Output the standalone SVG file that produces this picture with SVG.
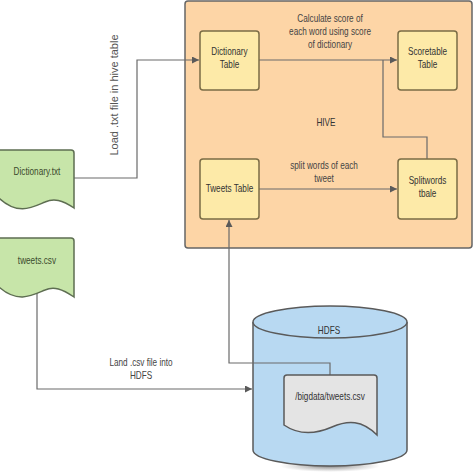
<svg xmlns="http://www.w3.org/2000/svg" width="474" height="475" viewBox="0 0 474 475">
<defs>
<marker id="arr" viewBox="0 0 10 10" refX="10" refY="5" markerWidth="7" markerHeight="7" markerUnits="userSpaceOnUse" orient="auto">
<path d="M0,0 L10,5 L0,10 Z" fill="#5a5a5a"/>
</marker>
<radialGradient id="shadow" cx="0.5" cy="0.5" r="0.5">
<stop offset="0" stop-color="#777" stop-opacity="0.9"/>
<stop offset="1" stop-color="#999" stop-opacity="0"/>
</radialGradient>
<style>
.lbl{font-family:"Liberation Sans",Arial,sans-serif;font-size:10.5px;fill:#444;text-anchor:middle}
.nt{font-family:"Liberation Sans",Arial,sans-serif;font-size:10.5px;fill:#333;text-anchor:middle}
.gt{font-family:"Liberation Sans",Arial,sans-serif;font-size:10.5px;fill:#3a4a2c;text-anchor:middle}
.tbl{fill:#fdeaa8;stroke:#7a6c45;stroke-width:1.5}
.doc{fill:#c7e5a9;stroke:#5e6e52;stroke-width:1.5}
.con{fill:none;stroke:#6a6a6a;stroke-width:1.2}
</style>
</defs>
<rect width="474" height="475" fill="#ffffff"/>

<g id="hive">
<rect x="185" y="1" width="287" height="247" rx="3" fill="#fdd5a6" stroke="#666" stroke-width="1.5"/>
<text class="nt" transform="scale(0.78 1)" x="417.9" y="126">HIVE</text>
</g>

<g id="hdfs">
<ellipse cx="330" cy="466" rx="50" ry="6" fill="url(#shadow)"/>
<path d="M253,322 V450 A77,16 0 0 0 407,450 V322" fill="#b8d9f2" stroke="#5a5a5a" stroke-width="1.5"/>
<ellipse cx="330" cy="322" rx="77" ry="16" fill="#b8d9f2" stroke="#5a5a5a" stroke-width="1.5"/>
<text class="nt" transform="scale(0.78 1)" x="421.8" y="334">HDFS</text>
</g>

<g id="connectors">
<path class="con" d="M74,178 H137 V60 H199" marker-end="url(#arr)"/>
<path class="con" d="M259,60 H397" marker-end="url(#arr)"/>
<path class="con" d="M427,159 V137 H383 V60"/>
<path class="con" d="M259,189 H397" marker-end="url(#arr)"/>
<path class="con" d="M330,375 V363 H229 V220" marker-end="url(#arr)"/>
<path class="con" d="M37,293 V389 H252" marker-end="url(#arr)"/>
<text class="lbl" transform="scale(0.78 1)" x="423.1" y="22">Calculate score of</text>
<text class="lbl" transform="scale(0.78 1)" x="423.1" y="35">each word using score</text>
<text class="lbl" transform="scale(0.78 1)" x="423.1" y="48">of dictionary</text>
<text class="lbl" transform="scale(0.78 1)" x="415.4" y="169">split words of each</text>
<text class="lbl" transform="scale(0.78 1)" x="415.4" y="182">tweet</text>
<text class="lbl" transform="scale(0.78 1)" x="180.8" y="366">Land .csv file into</text>
<text class="lbl" transform="scale(0.78 1)" x="180.8" y="379">HDFS</text>
<text x="118" y="95" transform="rotate(-90 118 95)" font-family="Liberation Sans, sans-serif" font-size="11" fill="#555" text-anchor="middle">Load .txt file in hive table</text>
</g>

<g id="dictionary-table">
<rect class="tbl" x="200" y="31" width="59" height="59" rx="3"/>
<text class="nt" transform="scale(0.78 1)" x="294.2" y="55">Dictionary</text>
<text class="nt" transform="scale(0.78 1)" x="294.2" y="68">Table</text>
</g>
<g id="scoretable-table">
<rect class="tbl" x="398" y="31" width="59" height="59" rx="3"/>
<text class="nt" transform="scale(0.78 1)" x="548.1" y="55">Scoretable</text>
<text class="nt" transform="scale(0.78 1)" x="548.1" y="68">Table</text>
</g>
<g id="tweets-table">
<rect class="tbl" x="200" y="159" width="59" height="60" rx="3"/>
<text class="nt" transform="scale(0.78 1)" x="294.2" y="192">Tweets Table</text>
</g>
<g id="splitwords-table">
<rect class="tbl" x="398" y="159" width="59" height="60" rx="3"/>
<text class="nt" transform="scale(0.78 1)" x="548.1" y="184">Splitwords</text>
<text class="nt" transform="scale(0.78 1)" x="548.1" y="197">tbale</text>
</g>

<g id="dictionary-txt">
<path class="doc" d="M-1,150 H71 Q74,150 74,153 V208 C62,200 54,198 45,202 C33,207 18,216 -1,198 Z"/>
<text class="gt" transform="scale(0.78 1)" x="47.4" y="175">Dictionary.txt</text>
</g>
<g id="tweets-csv">
<path class="doc" d="M-1,238 H71 Q74,238 74,241 V297 C62,289 54,286 45,290 C33,295 18,304 -1,287 Z"/>
<text class="gt" transform="scale(0.78 1)" x="47.4" y="264">tweets.csv</text>
</g>

<g id="bigdata-doc">
<path d="M284,378 Q284,375 287,375 H374 Q377,375 377,378 V435 C362,420 348,420 332,427 C316,434 300,436 284,425 Z" fill="#e4e4e4" stroke="#5a5a5a" stroke-width="1.5"/>
<text class="nt" transform="scale(0.78 1)" x="423.1" y="400">/bigdata/tweets.csv</text>
</g>
</svg>
